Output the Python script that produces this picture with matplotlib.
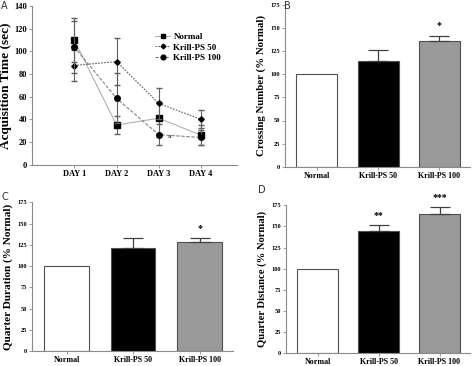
import numpy as np
import matplotlib
matplotlib.use("Agg")
import matplotlib.pyplot as plt
from matplotlib.lines import Line2D

plt.rcParams["font.family"] = ["Liberation Serif", "DejaVu Serif"]
plt.rcParams["font.weight"] = "bold"
plt.rcParams["axes.labelweight"] = "bold"

# panel A: acquisition time per day
days = ["DAY 1", "DAY 2", "DAY 3", "DAY 4"]
normal_time = [110, 35, 41, 26]
normal_err = [19, 8, 14, 9]
krill50_time = [87.5, 91, 54, 40]
krill50_err = [14, 21, 14, 8]
krill100_time = [104, 58.5, 26.5, 24]
krill100_err = [23, 22, 9.5, 7]

# panels B-D: % of normal
groups = ["Normal", "Krill-PS 50", "Krill-PS 100"]
crossing = [100, 114.5, 135.5]
crossing_err = [0, 12, 6]
duration = [100, 121, 128.5]
duration_err = [0, 11.5, 4.5]
distance = [100, 145, 165]
distance_err = [0, 7, 7.5]
crossing_sig = ["", "", "*"]
duration_sig = ["", "", "*"]
distance_sig = ["", "**", "***"]

W, H = 474, 366
fig = plt.figure(figsize=(W / 100, H / 100), dpi=100)


def box(l, r, top, bot):
    return [l / W, 1 - bot / H, (r - l) / W, (bot - top) / H]


def style(ax, fs):
    for s in ["top", "right"]:
        ax.spines[s].set_visible(False)
    for s in ["left", "bottom"]:
        ax.spines[s].set_color("#8a8a8a")
        ax.spines[s].set_linewidth(0.8)
    ax.tick_params(direction="out", length=2, width=0.6, color="#8a8a8a",
                   labelsize=fs, pad=1.5)


# ---- A
axA = fig.add_axes(box(32, 237, 6, 164.7))
x = np.arange(1, 5)
series = [
    (normal_time, normal_err, "Normal", "#b0b0b0", "-", "s", 4.2),
    (krill50_time, krill50_err, "Krill-PS 50", "#606060", (0, (1.5, 1.2)), "D", 2.8),
    (krill100_time, krill100_err, "Krill-PS 100", "#808080", (0, (3, 1.5)), "o", 4),
]
handles = []
for vals, errs, lab, col, ls, mk, ms in series:
    axA.errorbar(x, vals, yerr=errs, fmt="none", ecolor="#606060",
                 elinewidth=0.8, capsize=2.5)
    axA.plot(x, vals, color=col, lw=0.8, ls=ls, marker=mk, ms=ms,
             mfc="black", mec="black")
    handles.append(Line2D([], [], color=col, lw=0.8, ls=ls, marker=mk,
                          ms=ms * 0.85, mfc="black", mec="black", label=lab))
axA.text(3.22, krill100_time[2] - 3, "a", fontsize=5, color="#404040")
axA.set_xlim(0, 4.85)
axA.set_ylim(0, 140)
axA.set_yticks(np.arange(0, 141, 20))
axA.set_xticks(x)
axA.set_xticklabels(days)
style(axA, 6)
axA.set_ylabel("Acquisition Time (sec)", fontsize=9.5, labelpad=2)
axA.legend(handles=handles, loc="upper left", bbox_to_anchor=(0.58, 0.86),
           frameon=False, fontsize=6.5, handlelength=1.6, handletextpad=0.4,
           labelspacing=0.25, borderpad=0)


def bars(rect, vals, errs, sig, ylabel, ylfs):
    ax = fig.add_axes(rect)
    pos = np.arange(3)
    ax.bar(pos, vals, width=0.67, color=["white", "black", "#9a9a9a"],
           edgecolor="#505050", linewidth=0.8, zorder=2)
    for p, v, e in zip(pos, vals, errs):
        if e > 0:
            ax.errorbar(p, v, yerr=[[0], [e]], color="#404040", elinewidth=0.9,
                        capsize=7, capthick=0.9, zorder=3)
    for p, v, e, s in zip(pos, vals, errs, sig):
        if s:
            ax.text(p, v + e + 6, s, ha="center", va="bottom", fontsize=7,
                    clip_on=False)
    ax.set_xlim(-0.52, 2.5)
    ax.set_ylim(0, 175)
    ax.set_yticks(np.arange(0, 176, 25))
    ax.set_xticks(pos)
    ax.set_xticklabels(groups, fontsize=5.8)
    style(ax, 4.6)
    ax.tick_params(axis="x", labelsize=5.8)
    ax.set_ylabel(ylabel, fontsize=ylfs, labelpad=3)
    return ax


bars(box(285, 470, 5, 166.7), crossing, crossing_err, crossing_sig,
     "Crossing Number (% Normal)", 7.8)
bars(box(32, 233, 202.3, 351.3), duration, duration_err, duration_sig,
     "Quarter Duration (% Normal)", 8.1)
bars(box(286, 470, 205.3, 353), distance, distance_err, distance_sig,
     "Quarter Distance (% Normal)", 7.7)

for lab, px, py in [("A", 1, 1), ("B", 284, 1), ("C", 2, 192), ("D", 258, 185)]:
    fig.text(px / W, 1 - py / H, lab, fontsize=7, family="DejaVu Sans",
             fontweight="normal", va="top", ha="left", color="#303030")

fig.savefig("out.png", dpi=100)
